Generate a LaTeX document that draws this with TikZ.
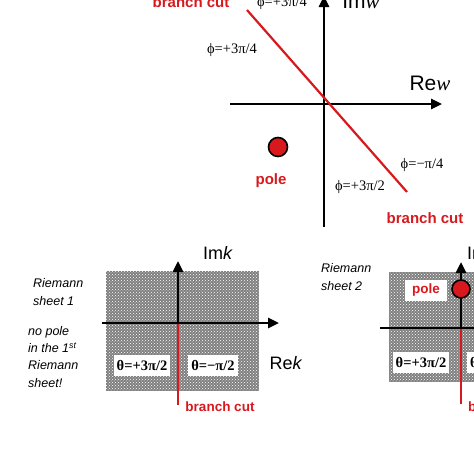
\documentclass[tikz,border=0pt]{standalone}
\usepackage{fontspec}
\setmainfont{Liberation Sans}
\newfontfamily\tms{Liberation Serif}
\usetikzlibrary{arrows.meta,patterns}
\definecolor{cutred}{RGB}{215,25,30}
\tikzset{
  axis/.style={line width=2.6pt,-{Triangle[length=11pt,width=10pt]}},
  cutline/.style={cutred,line width=2.2pt},
  hatch/.style={fill=black!50,postaction={pattern=crosshatch dots,pattern color=white}},
  redlbl/.style={text=cutred,font=\fontsize{15}{15}\selectfont\bfseries,inner sep=0pt,anchor=base},
  redlblsm/.style={text=cutred,font=\fontsize{13.5}{13.5}\selectfont\bfseries,inner sep=0pt,anchor=base},
  philbl/.style={font=\tms\fontsize{14.5}{14.5}\selectfont,inner sep=0pt,anchor=base},
  axlbl/.style={font=\fontsize{21}{21}\selectfont,inner sep=0pt,anchor=base},
  axlblsm/.style={font=\fontsize{18}{18}\selectfont,inner sep=0pt,anchor=base},
  sheet/.style={font=\itshape\fontsize{12.5}{17.3}\selectfont,inner sep=0pt,anchor=base west,align=left},
  thbox/.style={fill=white,font=\tms\bfseries\fontsize{14.5}{14.5}\selectfont,minimum height=21pt,inner sep=3pt},
  polebox/.style={fill=white,text=cutred,font=\fontsize{13.5}{13.5}\selectfont\bfseries,minimum height=21pt,minimum width=42pt,inner sep=2pt},
  poledot/.style={circle,fill=cutred,draw=black,line width=1.6pt,minimum size=19pt,inner sep=0pt},
}
\begin{document}
\begin{tikzpicture}[x=1pt,y=-1pt]
\useasboundingbox (0,0) rectangle (474,474);
\clip (0,0) rectangle (474,474);
% ---------- top w-plane ----------
\coordinate (wO) at (324,104);
\coordinate (wB) at (324,227);
\coordinate (wT) at (324,-4);
\coordinate (wL) at (230,104);
\coordinate (wR) at (442,104);
\coordinate (c1) at (247,10);
\coordinate (c2) at (407,192);
\draw[axis] (wB) -- (wT);
\draw[axis] (wL) -- (wR);
\draw[cutline] (c1) -- (c2);
\node[poledot] (wpole) at (278,147) {};
\node[redlbl] (wpolet) at (271,184) {pole};
\node[redlbl] (bc1) at (191,7) {branch cut};
\node[redlbl] (bc2) at (425,223) {branch cut};
\node[philbl] (p1) at (282,6) {ϕ=+3π/4};
\node[philbl] (p2) at (232,53) {ϕ=+3π/4};
\node[philbl] (p3) at (422,168) {ϕ=\textminus π/4};
\node[philbl] (p4) at (360,190) {ϕ=+3π/2};
\node[axlbl] (imw) at (361,8) {Im\textit{\tms w}};
\node[axlbl] (rew) at (430,90) {Re\textit{\tms w}};
% ---------- bottom left: sheet 1 ----------
\fill[hatch] (106,271) rectangle (259,391);
\node[thbox] (t1) at (142,365) {θ=+3π/2};
\node[thbox] (t2) at (213,365) {θ=\textminus π/2};
\coordinate (aO) at (178,323);
\coordinate (aT) at (178,261);
\coordinate (aB) at (178,405);
\coordinate (aL) at (102,323);
\coordinate (aR) at (279,323);
\draw[cutline] (aO) -- (aB);
\draw[axis] (aO) -- (aT);
\draw[axis] (aL) -- (aR);
\node[axlblsm] (imk) at (218,259) {Im\textit{k}};
\node[axlblsm] (rek) at (286,369) {Re\textit{k}};
\node[redlblsm] (bc3) at (220,411) {branch cut};
\node[sheet] (s1) at (33,305) {Riemann\\ sheet 1};
\node[sheet] (np) at (28,387) {no pole\\ in the 1\textsuperscript{st}\\ Riemann\\ sheet!};
% ---------- bottom right: sheet 2 ----------
\fill[hatch] (389,272) rectangle (480,382);
\node[thbox] (t3) at (421,362) {θ=+3π/2};
\node[thbox,anchor=west] (t4) at (467,362) {θ=\textminus π/2};
\node[polebox] (pb) at (426,290) {pole};
\coordinate (bO) at (461,328);
\coordinate (bT) at (461,262);
\coordinate (bB) at (461,404);
\coordinate (bL) at (380,328);
\coordinate (bR) at (560,328);
\draw[cutline] (bO) -- (bB);
\draw[axis] (bO) -- (bT);
\draw[axis] (bL) -- (bR);
\node[poledot,minimum size=18pt] (kpole) at (461,289) {};
\node[axlblsm,anchor=base west] (imk2) at (467,259) {Im\textit{k}};
\node[redlblsm,anchor=base west] (bc4) at (468,411) {branch cut};
\node[sheet] (s2) at (321,290) {Riemann\\ sheet 2};
\end{tikzpicture}
\end{document}
